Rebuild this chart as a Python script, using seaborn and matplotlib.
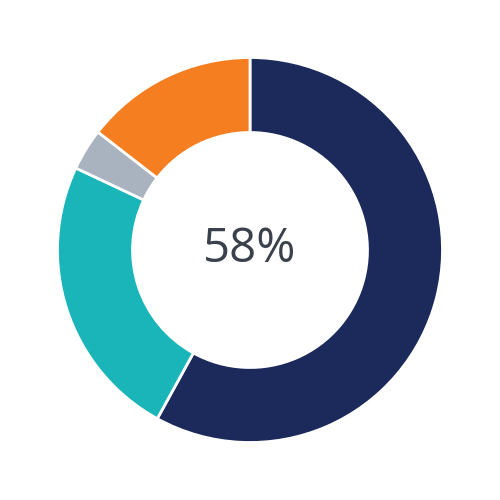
import matplotlib
matplotlib.use("Agg")
import matplotlib.pyplot as plt
import seaborn as sns

sns.set_theme(style="white")
plt.rcParams["font.family"] = ["Open Sans", "DejaVu Sans"]

# donut shares, clockwise from the top
labels = ["Navy", "Teal", "Gray", "Orange"]
shares = [58, 24, 3.5, 14.5]
colors = ["#1b2a5a", "#1ab5b8", "#a9b3c0", "#f47e20"]
center_label = "58%"

fig, ax = plt.subplots(figsize=(5, 5), dpi=100)
fig.subplots_adjust(left=0, right=1, bottom=0, top=1)

ax.pie(
    shares,
    colors=colors,
    startangle=90,
    counterclock=False,
    radius=0.77,
    wedgeprops={"width": 0.30, "edgecolor": "white", "linewidth": 2},
)
ax.text(0, 0.005, center_label, ha="center", va="center",
        fontsize=34, color="#3b414c")
ax.set_xlim(-1, 1)
ax.set_ylim(-1, 1)
ax.set_aspect("equal")
ax.axis("off")

fig.savefig("out.png", dpi=100, facecolor="white")
plt.close(fig)
